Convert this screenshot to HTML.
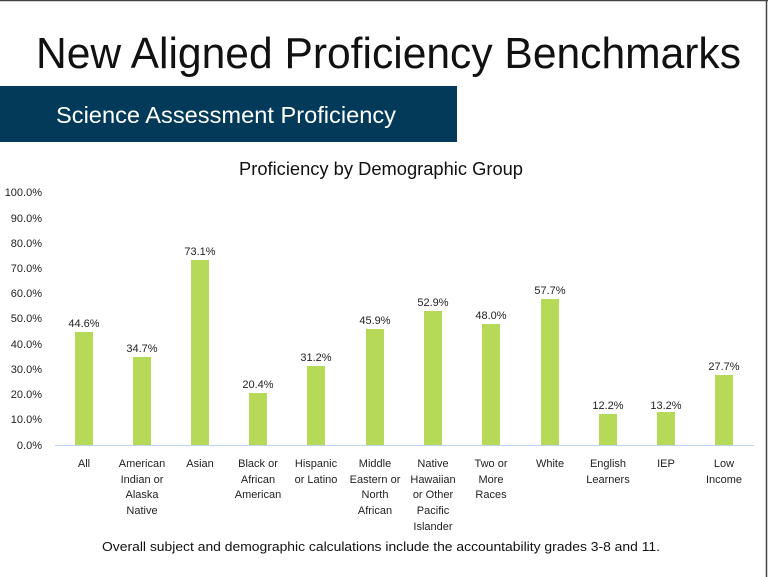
<!DOCTYPE html>
<html><head><style>
html,body{margin:0;padding:0;background:#fff}
svg{display:block}
text{font-family:"Liberation Sans",sans-serif}
</style></head><body>
<svg width="768" height="577" viewBox="0 0 768 577" xmlns="http://www.w3.org/2000/svg">
<rect x="0" y="0" width="768" height="577" fill="#fff"/>
<line x1="0" y1="0.5" x2="768" y2="0.5" stroke="#444" stroke-width="1.5"/>
<line x1="766.5" y1="0" x2="766.5" y2="577" stroke="#444" stroke-width="1.5"/>
<text x="36" y="68" font-size="44" fill="#111" textLength="705" lengthAdjust="spacingAndGlyphs">New Aligned Proficiency Benchmarks</text>
<rect x="0" y="86" width="457" height="56" fill="#033a5a"/>
<text x="56" y="123" font-size="23" fill="#fff" textLength="340" lengthAdjust="spacingAndGlyphs">Science Assessment Proficiency</text>
<text x="239" y="175" font-size="18" fill="#111" textLength="284" lengthAdjust="spacingAndGlyphs">Proficiency by Demographic Group</text>
<g font-size="11" fill="#222" text-anchor="end">
<text x="42" y="196">100.0%</text><text x="42" y="222">90.0%</text><text x="42" y="247">80.0%</text>
<text x="42" y="272">70.0%</text><text x="42" y="297">60.0%</text><text x="42" y="322">50.0%</text>
<text x="42" y="348">40.0%</text><text x="42" y="373">30.0%</text><text x="42" y="398">20.0%</text>
<text x="42" y="423">10.0%</text><text x="42" y="449">0.0%</text>
</g>
<line x1="55" y1="445.5" x2="754" y2="445.5" stroke="#bcd6ee" stroke-width="1"/>
<g fill="#b6d957">
<rect x="75" y="332" width="18" height="113"/>
<rect x="133" y="357" width="18" height="88"/>
<rect x="191" y="260" width="18" height="185"/>
<rect x="249" y="393" width="18" height="52"/>
<rect x="307" y="366" width="18" height="79"/>
<rect x="366" y="329" width="18" height="116"/>
<rect x="424" y="311" width="18" height="134"/>
<rect x="482" y="324" width="18" height="121"/>
<rect x="541" y="299" width="18" height="146"/>
<rect x="599" y="414" width="18" height="31"/>
<rect x="657" y="412" width="18" height="33"/>
<rect x="715" y="375" width="18" height="70"/>
</g>
<g font-size="11" fill="#222" text-anchor="middle">
<text x="84" y="327">44.6%</text><text x="142" y="352">34.7%</text><text x="200" y="255">73.1%</text>
<text x="258" y="388">20.4%</text><text x="316" y="361">31.2%</text><text x="375" y="324">45.9%</text>
<text x="433" y="306">52.9%</text><text x="491" y="319">48.0%</text><text x="550" y="294">57.7%</text>
<text x="608" y="409">12.2%</text><text x="666" y="409">13.2%</text><text x="724" y="370">27.7%</text>
</g>
<g font-size="11" fill="#222" text-anchor="middle">
<text x="84" y="467">All</text>
<text x="142" y="467">American</text><text x="142" y="483">Indian or</text><text x="142" y="498">Alaska</text><text x="142" y="514">Native</text>
<text x="200" y="467">Asian</text>
<text x="258" y="467">Black or</text><text x="258" y="483">African</text><text x="258" y="498">American</text>
<text x="316" y="467">Hispanic</text><text x="316" y="483">or Latino</text>
<text x="375" y="467">Middle</text><text x="375" y="483">Eastern or</text><text x="375" y="498">North</text><text x="375" y="514">African</text>
<text x="433" y="467">Native</text><text x="433" y="483">Hawaiian</text><text x="433" y="498">or Other</text><text x="433" y="514">Pacific</text><text x="433" y="530">Islander</text>
<text x="491" y="467">Two or</text><text x="491" y="483">More</text><text x="491" y="498">Races</text>
<text x="550" y="467">White</text>
<text x="608" y="467">English</text><text x="608" y="483">Learners</text>
<text x="666" y="467">IEP</text>
<text x="724" y="467">Low</text><text x="724" y="483">Income</text>
</g>
<text x="102" y="551" font-size="13" fill="#111" textLength="558" lengthAdjust="spacingAndGlyphs">Overall subject and demographic calculations include the accountability grades 3-8 and 11.</text>
</svg>
</body></html>
